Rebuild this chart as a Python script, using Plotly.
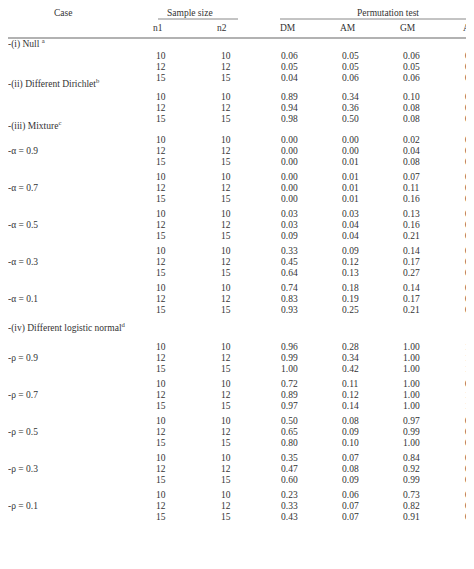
import plotly.graph_objects as go

W, H = 474, 569
FONT = "Liberation Serif"
FS = 9.5
COL = "#333"

n1 = [10, 12, 15]
n2 = [10, 12, 15]
sections = ["(i) Null <sup>a</sup>", "(ii) Different Dirichlet<sup>b</sup>", "(iii) Mixture<sup>c</sup>", "(iv) Different logistic normal<sup>d</sup>"]
block_labels = [[""], [""], ["α = 0.9", "α = 0.7", "α = 0.5", "α = 0.3", "α = 0.1"],
                ["ρ = 0.9", "ρ = 0.7", "ρ = 0.5", "ρ = 0.3", "ρ = 0.1"]]
DM = [0.06, 0.05, 0.04, 0.89, 0.94, 0.98,
      0.00, 0.00, 0.00, 0.00, 0.00, 0.00, 0.03, 0.03, 0.09, 0.33, 0.45, 0.64, 0.74, 0.83, 0.93,
      0.96, 0.99, 1.00, 0.72, 0.89, 0.97, 0.50, 0.65, 0.80, 0.35, 0.47, 0.60, 0.23, 0.33, 0.43]
AM = [0.05, 0.05, 0.06, 0.34, 0.36, 0.50,
      0.00, 0.00, 0.01, 0.01, 0.01, 0.01, 0.03, 0.04, 0.04, 0.09, 0.12, 0.13, 0.18, 0.19, 0.25,
      0.28, 0.34, 0.42, 0.11, 0.12, 0.14, 0.08, 0.09, 0.10, 0.07, 0.08, 0.09, 0.06, 0.07, 0.07]
GM = [0.06, 0.05, 0.06, 0.10, 0.08, 0.08,
      0.02, 0.04, 0.08, 0.07, 0.11, 0.16, 0.13, 0.16, 0.21, 0.14, 0.17, 0.27, 0.14, 0.17, 0.21,
      1.00, 1.00, 1.00, 1.00, 1.00, 1.00, 0.97, 0.99, 1.00, 0.84, 0.92, 0.99, 0.73, 0.82, 0.91]
AR = [0.05, 0.04, 0.05, 0.79, 0.87, 0.94,
      0.00, 0.00, 0.00, 0.00, 0.00, 0.00, 0.02, 0.05, 0.09, 0.25, 0.38, 0.54, 0.62, 0.72, 0.86,
      1.00, 1.00, 1.00, 0.99, 1.00, 1.00, 0.91, 0.96, 0.99, 0.74, 0.86, 0.95, 0.60, 0.73, 0.84]
footnotes = [
    "<sup>a</sup>The simulated samples were generated from a Dirichlet distribution with the vector of proportions <b>π</b><sub>1</sub>.",
    "<sup>b</sup>The simulated samples were generated from two Dirichlet distributions with the vector of proportions <b>π</b><sub>1</sub> and <b>π</b><sub>2</sub>.",
    "<sup>c</sup>The simulated samples were generated from a Dirichlet distribution with the vector of proportions <b>π</b><sub>1</sub> and a mixture of two Dirichlet",
    "    distributions <i>D</i><sub>1</sub> and <i>D</i><sub>2</sub> with proportions <b>π</b><sub>1</sub> and <b>π</b><sub>2</sub>, respectively.",
    "<sup>d</sup>The simulated samples were generated from two logistic normal distributions with the mean vector of the log-transformed multivariate",
    "    normal distribution <b>π</b><sub>1</sub> and <b>π</b><sub>2</sub>.",
]

# layout of rows (pixel y)
ROW = 11
BLOCK = 36.8
SEC_LABEL_Y = [37, 77, 119, 321]
SEC_FIRST_ROW = [49, 90, 133, 340]
row_y = []
block_label_y = []
for s, blocks in enumerate(block_labels):
    for b, lab in enumerate(blocks):
        y0 = SEC_FIRST_ROW[s] + b * BLOCK
        ys = [y0 + k * ROW for k in range(3)]
        row_y += ys
        if lab:
            block_label_y.append((lab, ys[1]))

fig = go.Figure()
nrows = len(DM)
def col(x, vals, fmt):
    fig.add_trace(go.Scatter(x=[x] * nrows, y=row_y, mode="text",
                             text=[fmt(v) for v in vals], textposition="middle right",
                             textfont=dict(family=FONT, size=FS, color=COL), cliponaxis=False,
                             hoverinfo="skip", showlegend=False))
col(148, n1 * 12, str)
col(213, n2 * 12, str)
col(273, DM, lambda v: f"{v:.2f}")
col(334, AM, lambda v: f"{v:.2f}")
col(395, GM, lambda v: f"{v:.2f}")
col(457, AR, lambda v: f"{v:.2f}")

fig.add_trace(go.Scatter(x=[0] * len(sections), y=SEC_LABEL_Y, mode="text",
                         text=["-" + s for s in sections], textposition="middle right",
                         textfont=dict(family=FONT, size=FS, color=COL), cliponaxis=False,
                         hoverinfo="skip", showlegend=False))
fig.add_trace(go.Scatter(x=[0] * len(block_label_y), y=[b[1] for b in block_label_y], mode="text",
                         text=["-" + b[0] for b in block_label_y], textposition="middle right",
                         textfont=dict(family=FONT, size=FS, color=COL), cliponaxis=False,
                         hoverinfo="skip", showlegend=False))

ann = []
def t(x, yy, s, anchor="center", size=FS):
    ann.append(dict(x=x, y=yy, xref="x", yref="y", text=s, showarrow=False, xanchor=anchor,
                    yanchor="middle", font=dict(family=FONT, size=size, color=COL)))
t(55, 5, "Case")
t(182, 5, "Sample size")
t(380, 5, "Permutation test")
for x, s in [(150, "n1"), (214, "n2"), (280, "DM"), (340, "AM"), (400, "GM"), (462, "AR")]:
    t(x, 20, s)
fy = 517
for i, f in enumerate(footnotes):
    t(-1, fy + i * 9.8, f.replace("    ", "&nbsp;&nbsp;&nbsp;&nbsp;&nbsp;&nbsp;"), "left", 8.3)

shapes = [
    dict(type="line", xref="x", yref="y", x0=150, x1=230, y0=11, y1=11, line=dict(color="#888", width=1)),
    dict(type="line", xref="x", yref="y", x0=272, x1=474, y0=11, y1=11, line=dict(color="#888", width=1)),
    dict(type="line", xref="x", yref="y", x0=0, x1=474, y0=30, y1=30, line=dict(color="#999", width=1.5)),
]

fig.update_layout(width=W, height=H, margin=dict(l=0, r=0, t=0, b=0),
                  paper_bgcolor="white", plot_bgcolor="white",
                  xaxis=dict(range=[0, W], visible=False, fixedrange=True),
                  yaxis=dict(range=[H, 0], visible=False, fixedrange=True),
                  annotations=ann, shapes=shapes)
fig.write_html("out.html", config={"displayModeBar": False})
